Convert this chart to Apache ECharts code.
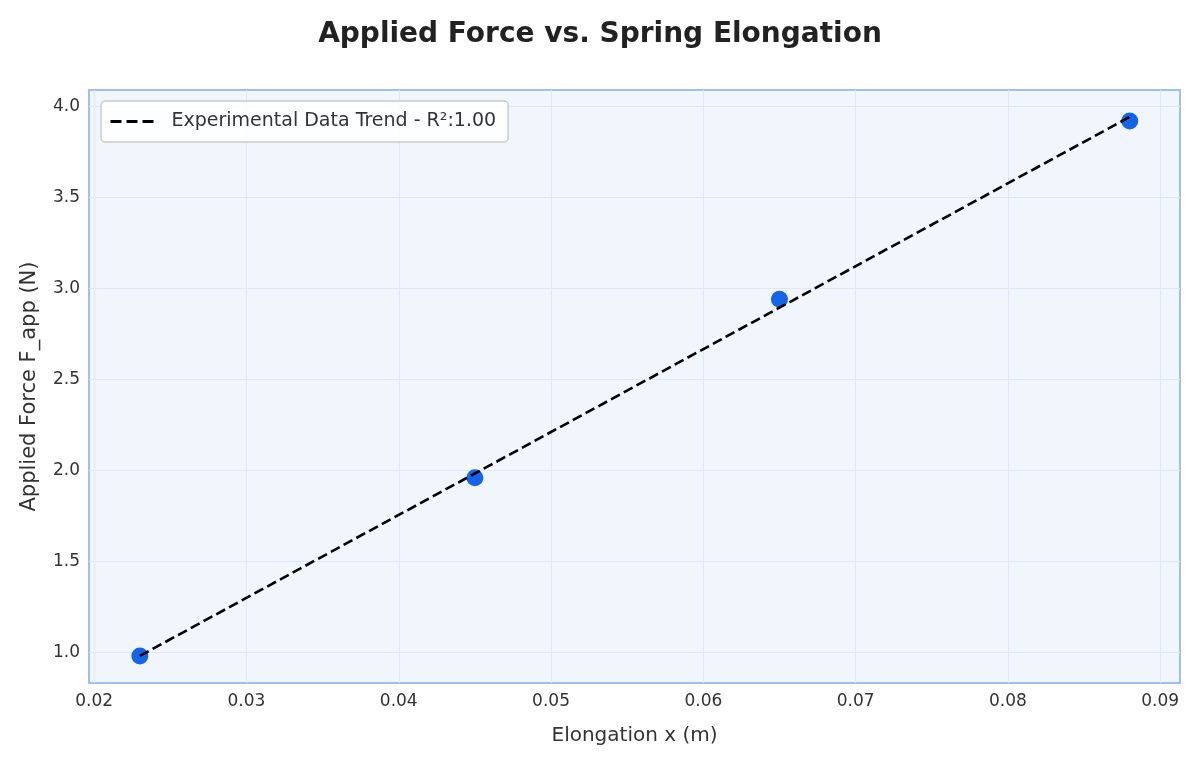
<!DOCTYPE html>
<html>
<head>
<meta charset="utf-8">
<script src="https://cdn.jsdelivr.net/npm/echarts@6/dist/echarts.min.js"></script>
<style>
  html, body { margin: 0; padding: 0; background: #fff; }
  #main { width: 1200px; height: 762px; }
</style>
</head>
<body>
<div id="main"></div>
<script>
// measured data
var elongation = [0.023, 0.045, 0.065, 0.088];
var force = [0.98, 1.96, 2.94, 3.92];
// fitted trend line end points
var trendX = [0.023, 0.088];
var trendY = [0.981, 3.942];
var xTicks = [0.02, 0.03, 0.04, 0.05, 0.06, 0.07, 0.08, 0.09];
var yTicks = [1.0, 1.5, 2.0, 2.5, 3.0, 3.5, 4.0];

var font = "DejaVu Sans";
var legendName = "Experimental Data Trend - R²:1.00";

var myChart = echarts.init(document.getElementById("main"));
option = {
  backgroundColor: "#ffffff",
  textStyle: { fontFamily: font },
  title: {
    text: "Applied Force vs. Spring Elongation",
    left: "center",
    top: 16,
    textStyle: { fontSize: 28, fontWeight: "bold", color: "#222", fontFamily: font }
  },
  legend: {
    left: 101,
    top: 101,
    padding: [11, 12, 11, 8],
    backgroundColor: "rgba(255,255,255,0.85)",
    borderColor: "#cccccc",
    borderWidth: 1.5,
    borderRadius: 4,
    itemWidth: 44,
    itemHeight: 16,
    textStyle: { fontSize: 19, color: "#333", fontFamily: font, padding: [0, 0, 0, 12] },
    data: [{
      name: legendName,
      itemStyle: { opacity: 0 },
      lineStyle: { width: 3, type: [11, 5] }
    }]
  },
  grid: {
    left: 89,
    right: 20,
    top: 90,
    bottom: 79,
    show: true,
    backgroundColor: "#f1f6fd",
    borderColor: "#9fbff3",
    borderWidth: 2
  },
  xAxis: {
    type: "value",
    min: 0.01966,
    max: 0.0913,
    name: "Elongation x (m)",
    nameLocation: "middle",
    nameGap: 43,
    nameTextStyle: { fontSize: 20, color: "#333", fontFamily: font },
    axisLine: { show: false },
    axisTick: { show: false, customValues: xTicks },
    axisLabel: {
      customValues: xTicks,
      fontSize: 17,
      color: "#333",
      margin: 10,
      formatter: function (v) { return v.toFixed(2); }
    },
    splitLine: { show: true, lineStyle: { color: "#dfe8f8", width: 1 } }
  },
  yAxis: {
    type: "value",
    min: 0.832,
    max: 4.09,
    name: "Applied Force F_app (N)",
    nameLocation: "middle",
    nameGap: 49,
    nameTextStyle: { fontSize: 21, color: "#333", fontFamily: font },
    axisLine: { show: false },
    axisTick: { show: false, customValues: yTicks },
    axisLabel: {
      customValues: yTicks,
      fontSize: 17,
      color: "#333",
      margin: 9,
      formatter: function (v) { return v.toFixed(1); }
    },
    splitLine: { show: true, lineStyle: { color: "#dfe8f8", width: 1 } }
  },
  series: [
    {
      name: legendName,
      type: "line",
      data: trendX.map(function (x, i) { return [x, trendY[i]]; }),
      symbol: "none",
      lineStyle: { color: "#000", width: 2.6, type: [10, 4.5] },
      z: 3
    },
    {
      name: "data",
      type: "scatter",
      data: elongation.map(function (x, i) { return [x, force[i]]; }),
      symbolSize: 17,
      itemStyle: { color: "#1565e8", opacity: 1 },
      z: 2
    }
  ]
};
myChart.setOption(option);
</script>
</body>
</html>
